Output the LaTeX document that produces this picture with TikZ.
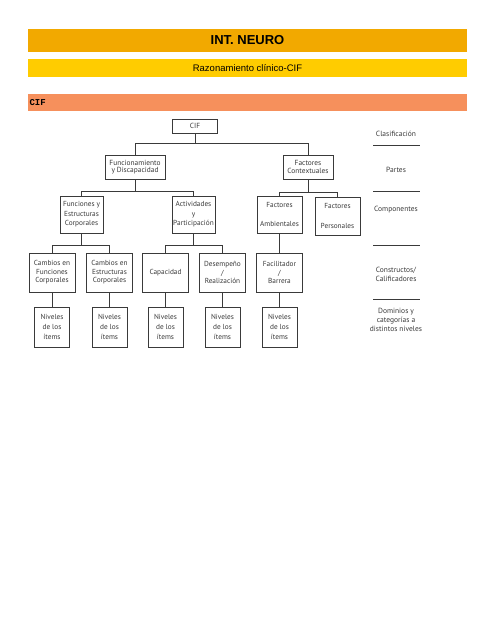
\documentclass[tikz,border=0pt]{standalone}
\usepackage{fontspec}
\setmainfont{Liberation Sans}
\setmonofont{Liberation Mono}
\newfontfamily\cajafont{PT Sans}

\definecolor{naranja}{HTML}{F2A900}
\definecolor{amarillo}{HTML}{FFCC00}
\definecolor{salmon}{HTML}{F6905C}
\definecolor{trazo}{HTML}{3A3A3A}

\tikzset{
  barra/.style={minimum width=439pt, inner sep=0pt, text=black},
  caja/.style={draw=trazo, line width=0.6pt, fill=white, inner sep=0pt, align=center, text=trazo},
  nivel1/.style={caja, font={\cajafont\fontsize{7.4}{7.3}\selectfont}},
  nivel2/.style={caja, minimum width=43pt, minimum height=37pt, font={\cajafont\fontsize{7.3}{9.5}\selectfont}},
  nivel3/.style={caja, minimum width=46pt, minimum height=39pt, font={\cajafont\fontsize{7.3}{8.6}\selectfont}},
  hoja/.style={caja, minimum width=35pt, minimum height=40pt, font={\cajafont\fontsize{7.3}{10}\selectfont}},
  etiq/.style={align=center, text=trazo, font={\cajafont\fontsize{7.5}{9}\selectfont}},
  conector/.style={draw=trazo, line width=0.6pt},
  separador/.style={draw=trazo, line width=0.8pt}
}

\begin{document}
\begin{tikzpicture}[x=1pt, y=-1pt]
  \useasboundingbox (0,0) rectangle (495,640);

  % Barras de titulo
  \node[barra, fill=naranja, minimum height=23pt, font=\bfseries\fontsize{13}{13}\selectfont] (titulo) at (247.5,40.5) {INT. NEURO};
  \node[barra, fill=amarillo, minimum height=18pt, font=\fontsize{9.5}{9.5}\selectfont] (subtitulo) at (247.5,68) {Razonamiento clínico-CIF};
  \node[barra, fill=salmon, minimum height=17pt] (seccion) at (247.5,102.5) {};
  \node[anchor=west, inner sep=1.5pt, font=\ttfamily\bfseries\fontsize{9}{9}\selectfont] (seccion-txt) at (seccion.west) {CIF};

  % Clasificacion y partes
  \node[nivel1, minimum width=45pt, minimum height=14pt] (cif) at (195,126) {CIF};
  \node[nivel1, minimum width=60pt, minimum height=24pt] (fd) at (135,167) {Funcionamiento\\y Discapacidad};
  \node[nivel1, minimum width=50pt, minimum height=24pt] (fc) at (308,167) {Factores\\Contextuales};

  % Componentes
  \node[nivel2] (fye) at (81.5,214.5) {Funciones y\\Estructuras\\Corporales};
  \node[nivel2] (ayp) at (193.5,214.5) {Actividades\\y\\Participación};
  \node[nivel2, minimum width=45pt] (fa) at (279.5,214.5) {Factores\\[10pt]Ambientales};
  \node[nivel2, minimum width=45pt, minimum height=38pt] (fp) at (337.5,216) {Factores\\[10pt]Personales};

  % Constructos / calificadores
  \node[nivel3] (cfc) at (52,272.5) {Cambios en\\Funciones\\Corporales};
  \node[nivel3] (cec) at (109.5,272.5) {Cambios en\\Estructuras\\Corporales};
  \node[nivel3] (cap) at (165.5,272.5) {Capacidad};
  \node[nivel3] (dr) at (222.5,272.5) {Desempeño\\/\\Realización};
  \node[nivel3] (fb) at (279.5,272.5) {Facilitador\\/\\Barrera};

  % Dominios
  \foreach \x/\n in {52/cfc, 109.5/cec, 165.5/cap, 222.5/dr, 279.5/fb}
    \node[hoja] (niv-\n) at (\x,327) {Niveles\\de los\\ítems};

  % Conectores
  \coordinate (bus0) at (195,143);
  \coordinate (bus1) at (135,191);
  \coordinate (bus2) at (308,192);
  \coordinate (bus3) at (81.5,245);
  \coordinate (bus4) at (193.5,245);

  \draw[conector] (cif.south) -- (bus0) -| (fd.north);
  \draw[conector] (bus0) -| (fc.north);
  \draw[conector] (fd.south) -- (bus1) -| (fye.north);
  \draw[conector] (bus1) -| (ayp.north);
  \draw[conector] (fc.south) -- (bus2) -| (fa.north);
  \draw[conector] (bus2) -| (fp.north);
  \draw[conector] (fye.south) -- (bus3) -| (cfc.north);
  \draw[conector] (bus3) -| (cec.north);
  \draw[conector] (ayp.south) -- (bus4) -| (cap.north);
  \draw[conector] (bus4) -| (dr.north);
  \draw[conector] (fa) -- (fb);
  \foreach \n in {cfc, cec, cap, dr, fb}
    \draw[conector] (\n) -- (niv-\n);

  % Columna de niveles
  \node[etiq] (e-clas) at (396,134) {Clasificación};
  \node[etiq] (e-part) at (396,170) {Partes};
  \node[etiq] (e-comp) at (396,210) {Componentes};
  \node[etiq] (e-cons) at (396,274) {Constructos/\\Calificadores};
  \node[etiq] (e-dom) at (396,320) {Dominios y\\categorías a\\distintos niveles};

  \draw[separador] (373,145) -- (420,145);
  \draw[separador] (373,191) -- (420,191);
  \draw[separador] (373,245) -- (420,245);
  \draw[separador] (373,299) -- (420,299);

\end{tikzpicture}
\end{document}
